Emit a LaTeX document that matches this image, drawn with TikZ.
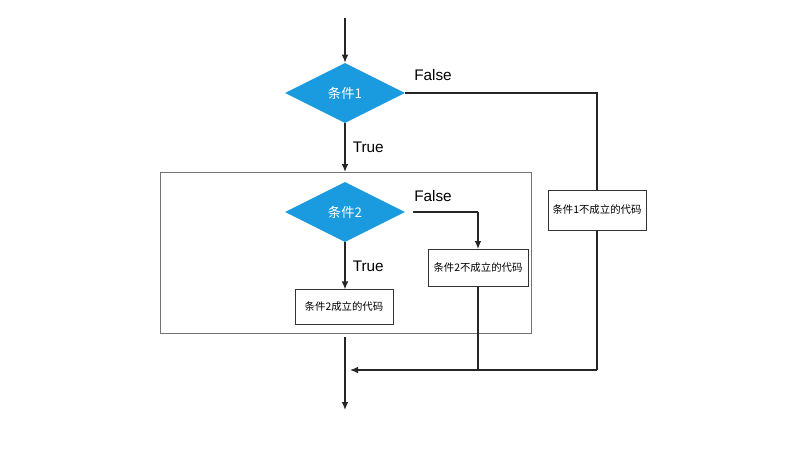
\documentclass[tikz,border=0pt]{standalone}
\usepackage{fontspec}
\setmainfont{Liberation Sans}
\newfontfamily\cjk{Noto Sans CJK SC}
\usetikzlibrary{shapes.geometric,arrows.meta}
\tikzset{
  dia/.style={diamond,fill=diamcol,draw=none,minimum width=90pt,minimum height=45pt,inner sep=0pt,aspect=2,text=white,font=\cjk\fontsize{10}{12}\selectfont},
  codebox/.style={draw=black!80,fill=white,inner sep=0pt,font=\cjk\fontsize{7.8}{9}\selectfont},
  lbl/.style={font=\fontsize{11.5}{13}\selectfont},
  flow/.style={draw=black!85,line width=1pt,-{Latex[length=6pt,width=5pt]}},
  ln/.style={draw=black!85,line width=1pt}
}
\definecolor{diamcol}{HTML}{1A9BE0}
\begin{document}
\begin{tikzpicture}[x=0.75pt,y=-0.75pt]
\useasboundingbox[fill=white] (0,0) rectangle (800,450);
\draw[black!55,line width=0.6pt] (160,172) rectangle (531,333);
\coordinate (top) at (345,18);
\node[dia] (d1) at (345,93) {条件1};
\node[dia] (d2) at (345,212) {条件2};
\node[codebox,minimum width=73.5pt,minimum height=30pt] (b1) at (597,210) {条件1不成立的代码};
\node[codebox,minimum width=75pt,minimum height=28pt] (b2) at (478,268) {条件2不成立的代码};
\node[codebox,minimum width=73.5pt,minimum height=26pt] (b3) at (344,307) {条件2成立的代码};
\coordinate (fr) at (345,172);
\coordinate (fb) at (345,337);
\coordinate (join) at (350,370);
\coordinate (end) at (345,410);
\draw[flow] (top) -- (d1.north);
\draw[flow] (d1.south) -- node[lbl,right=2pt]{True} (fr);
\draw[ln] (d1.east) -- (b1.north |- d1.east) -- (b1.north);
\node[lbl] (f1) at (433,75) {False};
\draw[ln] (413,212) -- (478,212);
\draw[flow] (478,212) -- (b2.north);
\node[lbl] (f2) at (433,196) {False};
\draw[flow] (d2.south) -- node[lbl,right=2pt]{True} (b3.north -| d2.south);
\draw[ln] (b2.south) -- (b2.south |- join);
\draw[ln] (b1.south) -- (b1.south |- join);
\draw[flow] (b1.south |- join) -- (join);
\draw[flow] (fb) -- (end);
\end{tikzpicture}
\end{document}
